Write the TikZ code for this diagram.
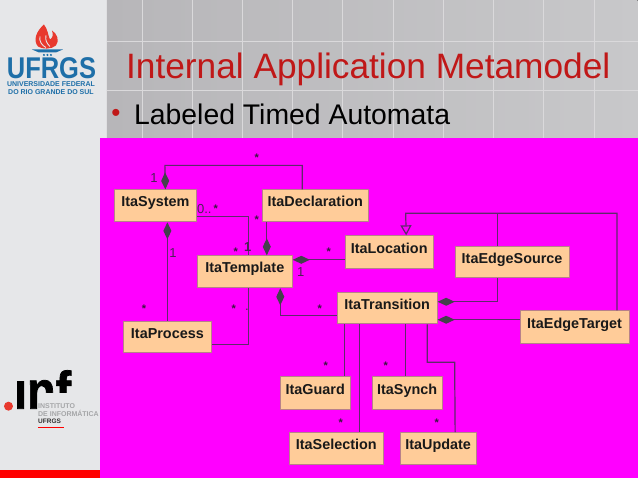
\documentclass[tikz,border=0pt]{standalone}
\usepackage{fontspec}
\setmainfont{Liberation Sans}
\usetikzlibrary{arrows.meta, calc}
\definecolor{sidegray}{HTML}{E6E7E9}
\definecolor{topgray}{HTML}{B7B6B9}
\definecolor{toplight}{HTML}{C8C8CA}
\definecolor{gridline}{HTML}{DAD9DB}
\definecolor{titlered}{HTML}{C01818}
\definecolor{slidepink}{HTML}{FF00FF}
\definecolor{boxfill}{HTML}{FFCC99}
\definecolor{boxline}{HTML}{B8808A}
\definecolor{assocline}{HTML}{5E2A6A}
\definecolor{diamondgray}{HTML}{44404C}
\definecolor{ufblue}{HTML}{1E6FA8}
\definecolor{flamered}{HTML}{E8392E}
\definecolor{infgray}{HTML}{A5A6A8}

\tikzset{
  classbox/.style={draw=boxline, line width=1pt, fill=boxfill, font=\fontsize{14.4}{16}\selectfont\bfseries,
    text=black!90, inner sep=0pt, anchor=north west, text height=10pt, text depth=8pt},
  assoc/.style={assocline, line width=1.2pt},
  comp/.style={assoc, {Diamond[length=17pt, width=8pt, fill=diamondgray, color=diamondgray]}-},
  gen/.style={assoc, {Triangle[open, length=10pt, width=11pt]}-},
  multi/.style={text=assocline!80!black, font=\fontsize{13}{14}\selectfont, inner sep=0pt},
  star/.style={text=assocline!60!black, font=\fontsize{11}{12}\selectfont\bfseries, inner sep=0pt},
}

\begin{document}
\begin{tikzpicture}[x=1pt, y=-1pt]

% Background
\fill[sidegray] (0,0) rectangle (638,478);
\fill[left color=topgray, right color=toplight] (107,0) rectangle (638,138);
\foreach \gx in {143,193,243,293,343,394,444,494,544,595}
  \draw[gridline, line width=1pt] (\gx,0) -- (\gx,138);
\foreach \gy in {41,90}
  \draw[gridline, line width=1pt] (107,\gy) -- (638,\gy);
\fill[red] (0,470) rectangle (100,478);

% Title
\node[text=titlered, font=\fontsize{35.3}{38}\selectfont, anchor=base west, inner sep=0pt] (title)
  at (126,78) {Internal Application Metamodel};
\node[text=titlered, font=\fontsize{26}{26}\selectfont, anchor=base, inner sep=0pt] (bullet) at (116,121.5) {•};
\node[text=black, font=\fontsize{28.4}{30}\selectfont, anchor=base west, inner sep=0pt] (subtitle)
  at (134,124) {Labeled Timed Automata};

% ================================================================
% UFRGS logo
% ================================================================
\fill[flamered] (44,24) .. controls (36,31) and (33,40) .. (38,46)
  .. controls (42,49) and (52,49) .. (56,45) .. controls (60,40) and (57,33) .. (52,30)
  .. controls (54,35) and (52,38) .. (50,39) .. controls (48,35) and (48,29) .. (44,24) -- cycle;
\draw[sidegray, line width=0.9pt] (40,36) .. controls (39,41) and (42,45) .. (46,47);
\draw[sidegray, line width=0.9pt] (46,35) .. controls (45,40) and (47,43) .. (50,46);
\fill[ufblue] (32,49) -- (63,49) -- (56,52) -- (39,52) -- cycle;
\foreach \dx in {44,47.5,51}
  \fill[ufblue] (\dx,54.5) circle (1.2pt);
\node[text=ufblue, font=\fontsize{30}{30}\selectfont\bfseries, xscale=0.85, inner sep=0pt] (ufrgs) at (51.5,67.5) {UFRGS};
\node[text=ufblue, font=\fontsize{7}{8}\selectfont\bfseries, align=center, inner sep=0pt] (ufrgsname) at (51,88)
  {UNIVERSIDADE FEDERAL\\DO RIO GRANDE DO SUL};

% ================================================================
% INF logo
% ================================================================
\fill[flamered] (8.5,406) circle (4.5pt);
\node[text=black, font=\fontsize{53}{54}\selectfont\bfseries\addfontfeature{FakeBold=1.5}, xscale=0.88,
      anchor=base west, inner sep=0pt] (inf) at (14,408.5) {inf};
\fill[sidegray] (13,368) rectangle (27,380.5);
\fill[sidegray] (38,393) rectangle (75,412);
\node[text=infgray, font=\fontsize{7}{8}\selectfont\bfseries, align=left, anchor=north west, inner sep=0pt] (infname)
  at (38,403.5) {INSTITUTO\\DE INFORMÁTICA};
\node[text=black!80, font=\fontsize{6.5}{7}\selectfont\bfseries, anchor=north west, inner sep=0pt] (infufrgs)
  at (38,419) {UFRGS};
\draw[red, line width=1pt] (38,427.5) -- (64,427.5);

\fill[slidepink] (100,138) rectangle (638,478);

% ================================================================
% Classes
% ================================================================
\node[classbox, minimum width=82pt, minimum height=32pt] (ItaSystem) at (114,189) {ItaSystem};
\node[classbox, minimum width=106pt, minimum height=32pt] (ItaDeclaration) at (262,189) {ItaDeclaration};
\node[classbox, minimum width=95pt, minimum height=32pt] (ItaTemplate) at (197,255) {ItaTemplate};
\node[classbox, minimum width=88pt, minimum height=31pt] (ItaProcess) at (123,321) {ItaProcess};
\node[classbox, minimum width=88pt, minimum height=33pt] (ItaLocation) at (345,235) {ItaLocation};
\node[classbox, minimum width=114pt, minimum height=31pt] (ItaEdgeSource) at (455,246) {ItaEdgeSource};
\node[classbox, minimum width=100pt, minimum height=31pt] (ItaTransition) at (337,292) {ItaTransition};
\node[classbox, minimum width=109pt, minimum height=33pt] (ItaEdgeTarget) at (520,310) {ItaEdgeTarget};
\node[classbox, minimum width=70pt, minimum height=33pt] (ItaGuard) at (280,376) {ItaGuard};
\node[classbox, minimum width=70pt, minimum height=33pt] (ItaSynch) at (372,376) {ItaSynch};
\node[classbox, minimum width=94pt, minimum height=32pt] (ItaSelection) at (289,432) {ItaSelection};
\node[classbox, minimum width=76pt, minimum height=32pt] (ItaUpdate) at (400,432) {ItaUpdate};

% ================================================================
% Connectors
% ================================================================
\coordinate (syscorner) at (165,165);
\coordinate (gentop) at (406,213);
\coordinate (updcorner) at (455,362);

% Compositions
\draw[comp] ([xshift=10pt]ItaSystem.north) -- (syscorner) -| ([xshift=-13pt]ItaDeclaration.north);
\draw[comp] (ItaSystem.south -| ItaProcess.north) -- (ItaProcess.north);
\draw[comp] ([xshift=22pt]ItaTemplate.north) -- ([xshift=-48.5pt]ItaDeclaration.south);
\draw[comp] ([yshift=12pt]ItaTemplate.east) -- ([yshift=-7.5pt]ItaLocation.west);
\draw[comp] ([xshift=35.5pt]ItaTemplate.south) |- ([yshift=-7.5pt]ItaTransition.west);
\draw[comp] ([yshift=6.5pt]ItaTransition.east) -| ([xshift=-15pt]ItaEdgeSource.south);
\draw[comp] ([yshift=-11.5pt]ItaTransition.east) -- ([yshift=7.5pt]ItaEdgeTarget.west);

% Plain associations
\draw[assoc] ([yshift=-11pt]ItaSystem.east) -| ([xshift=3.5pt]ItaTemplate.north);
\draw[assoc] ([xshift=3.5pt]ItaTemplate.south) |- ([yshift=-7pt]ItaProcess.east);

% Generalization
\draw[gen] ([xshift=17pt]ItaLocation.north) -- (gentop) -| ([xshift=42.5pt]ItaEdgeTarget.north);
\draw[assoc] ([xshift=-15pt]ItaEdgeSource.north) -- ([xshift=-15pt]ItaEdgeSource.north |- gentop);

% Transition parts
\draw[assoc] ([xshift=-43pt]ItaTransition.south) -- ([xshift=-43pt]ItaTransition.south |- ItaGuard.north);
\draw[assoc] ([xshift=-28pt]ItaTransition.south) -- ([xshift=-28pt]ItaTransition.south |- ItaSelection.north);
\draw[assoc] ([xshift=18pt]ItaTransition.south) -- ([xshift=18pt]ItaTransition.south |- ItaSynch.north);
\draw[assoc] ([xshift=40pt]ItaTransition.south) |- (updcorner) -- ([xshift=17pt]ItaUpdate.north);

% ================================================================
% Multiplicities
% ================================================================
\foreach \mx/\my/\mt in {154/178/1, 173/253/1, 248/247/\textbf{1}, 301/272/1, 204.5/209/0.., 247/310/.}
  \node[multi] at (\mx,\my) {\mt};
\foreach \mx/\my in {257/157, 216/208, 257/219, 236/251, 329/251, 144/308, 234/308, 320/308,
    326/366, 386/366, 341/423, 437/423}
  \node[star] at (\mx,\my) {*};

\useasboundingbox (0,0) rectangle (638,478);
\end{tikzpicture}
\end{document}
